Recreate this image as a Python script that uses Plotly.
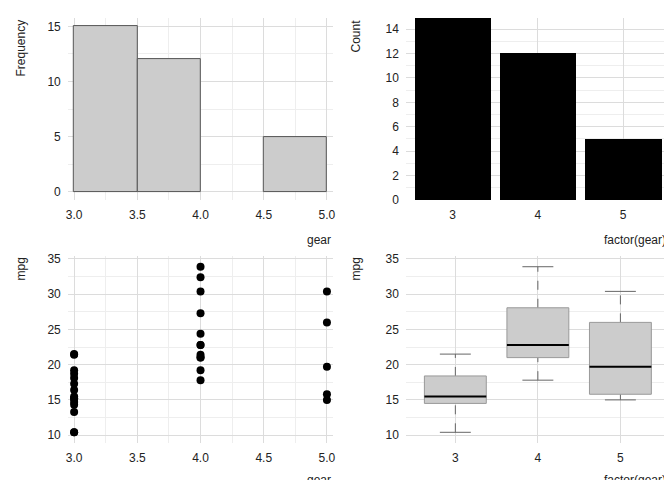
import numpy as np
import plotly.graph_objects as go

# mtcars: gear and mpg
gear3_mpg = [21.4, 18.7, 18.1, 14.3, 16.4, 17.3, 15.2, 10.4, 10.4, 14.7, 21.5, 15.5, 15.2, 13.3, 19.2]
gear4_mpg = [21.0, 21.0, 22.8, 24.4, 22.8, 19.2, 17.8, 32.4, 30.4, 33.9, 27.3, 21.4]
gear5_mpg = [26.0, 30.4, 15.8, 19.7, 15.0]
gear_levels = [3, 4, 5]
hist_edges = [3.0, 3.5, 4.0, 4.5, 5.0]

groups = [gear3_mpg, gear4_mpg, gear5_mpg]
gears = np.concatenate([[g] * len(m) for g, m in zip(gear_levels, groups)])
mpg = np.concatenate(groups)
counts = [len(m) for m in groups]

# histogram counts, right-closed bins like R's hist()
hist_counts = [int(np.sum((gears > lo) & (gears <= hi)) + (np.sum(gears == lo) if i == 0 else 0))
               for i, (lo, hi) in enumerate(zip(hist_edges[:-1], hist_edges[1:]))]
hist_counts = [c if c > 0 else None for c in hist_counts]

fig = go.Figure()
FONT = dict(family="Liberation Sans, Arial", size=12, color="#222")
GRID = "#dcdcdc"
MINOR = "#eeeeee"

# top-left histogram
mids = [(a + b) / 2 for a, b in zip(hist_edges[:-1], hist_edges[1:])]
fig.add_trace(go.Bar(x=mids, y=hist_counts, width=0.5, marker=dict(color="#cccccc", line=dict(color="#555", width=1)),
                     xaxis="x", yaxis="y"))
# top-right count bars
fig.add_trace(go.Bar(x=[0, 1, 2], y=counts, width=0.9, marker=dict(color="black", line=dict(width=0)),
                     xaxis="x2", yaxis="y2"))
# bottom-left scatter
fig.add_trace(go.Scatter(x=gears, y=mpg, mode="markers", marker=dict(color="black", size=8),
                         xaxis="x3", yaxis="y3"))
# bottom-right boxplot
for i, m in enumerate(groups):
    a = np.array(m)
    q1, med, q3 = np.percentile(a, [25, 50, 75])
    iqr = q3 - q1
    lo = a[a >= q1 - 1.5 * iqr].min()
    hi = a[a <= q3 + 1.5 * iqr].max()
    w = 0.375
    fig.add_trace(go.Scatter(x=[i, i, None, i, i], y=[lo, q1, None, q3, hi], mode="lines",
                             line=dict(color="#666", width=1, dash="dash"), xaxis="x4", yaxis="y4"))
    fig.add_trace(go.Scatter(x=[i - w / 2, i + w / 2, None, i - w / 2, i + w / 2], y=[lo, lo, None, hi, hi],
                             mode="lines", line=dict(color="#666", width=1), xaxis="x4", yaxis="y4"))
    fig.add_trace(go.Scatter(x=[i - w, i + w, i + w, i - w, i - w], y=[q1, q1, q3, q3, q1], mode="lines",
                             fill="toself", fillcolor="#cccccc", line=dict(color="#999", width=1),
                             xaxis="x4", yaxis="y4"))
    fig.add_trace(go.Scatter(x=[i - w, i + w], y=[med, med], mode="lines", line=dict(color="black", width=2),
                             xaxis="x4", yaxis="y4"))

ax = dict(showgrid=True, gridcolor=GRID, zeroline=False, showline=False, ticks="", automargin=False,
          ticklabelstandoff=6, tickfont=dict(size=12, color="#222"), minor=dict(showgrid=True, gridcolor=MINOR))
xl, xr = [0.089, 0.484], [0.592, 0.985]
yt, yb = [0.60, 0.979], [0.094, 0.483]
fig.update_layout(
    width=672, height=480, margin=dict(l=0, r=0, t=0, b=0, autoexpand=False), showlegend=False,
    plot_bgcolor="white", paper_bgcolor="white", font=FONT, bargap=0,
    xaxis=dict(ax, domain=xl, anchor="y", range=[2.95, 5.05], tickvals=[3, 3.5, 4, 4.5, 5],
               ticktext=["3.0", "3.5", "4.0", "4.5", "5.0"], minor=dict(showgrid=True, gridcolor=MINOR, dtick=0.25)),
    yaxis=dict(ax, domain=yt, anchor="x", range=[-0.75, 15.75], dtick=5, minor=dict(showgrid=True, gridcolor=MINOR, dtick=2.5)),
    xaxis2=dict(ax, domain=xr, anchor="y2", range=[-0.55, 2.55], tickvals=[0, 1, 2], ticktext=gear_levels, minor=dict(showgrid=False)),
    yaxis2=dict(ax, domain=yt, anchor="x2", range=[0, 14.9], dtick=2, minor=dict(showgrid=True, gridcolor=MINOR, dtick=1)),
    xaxis3=dict(ax, domain=xl, anchor="y3", range=[2.95, 5.05], tickvals=[3, 3.5, 4, 4.5, 5],
                ticktext=["3.0", "3.5", "4.0", "4.5", "5.0"], minor=dict(showgrid=True, gridcolor=MINOR, dtick=0.25)),
    yaxis3=dict(ax, domain=yb, anchor="x3", range=[8.9, 35.4], dtick=5, minor=dict(showgrid=True, gridcolor=MINOR, dtick=2.5)),
    xaxis4=dict(ax, domain=xr, anchor="y4", range=[-0.6, 2.6], tickvals=[0, 1, 2], ticktext=gear_levels, minor=dict(showgrid=False)),
    yaxis4=dict(ax, domain=yb, anchor="x4", range=[8.9, 35.4], dtick=5, minor=dict(showgrid=True, gridcolor=MINOR, dtick=2.5)),
)

titles = [
    ("gear", 325, 232, 0), ("Frequency", 12, 10, -90), ("factor(gear)", 660, 232, 0), ("Count", 347, 10, -90),
    ("mpg", 12, 248, -90), ("gear", 325, 472, 0), ("mpg", 347, 248, -90), ("factor(gear)", 660, 472, 0),
]
for text, px, py, ang in titles:
    vertical = ang != 0
    fig.add_annotation(text=text, x=px / 672, y=1 - py / 480, xref="paper", yref="paper", showarrow=False,
                       textangle=ang, xanchor="center" if vertical else "right",
                       yanchor="top" if vertical else "middle", font=dict(size=12, color="#222"))

fig.write_html("out.html")
